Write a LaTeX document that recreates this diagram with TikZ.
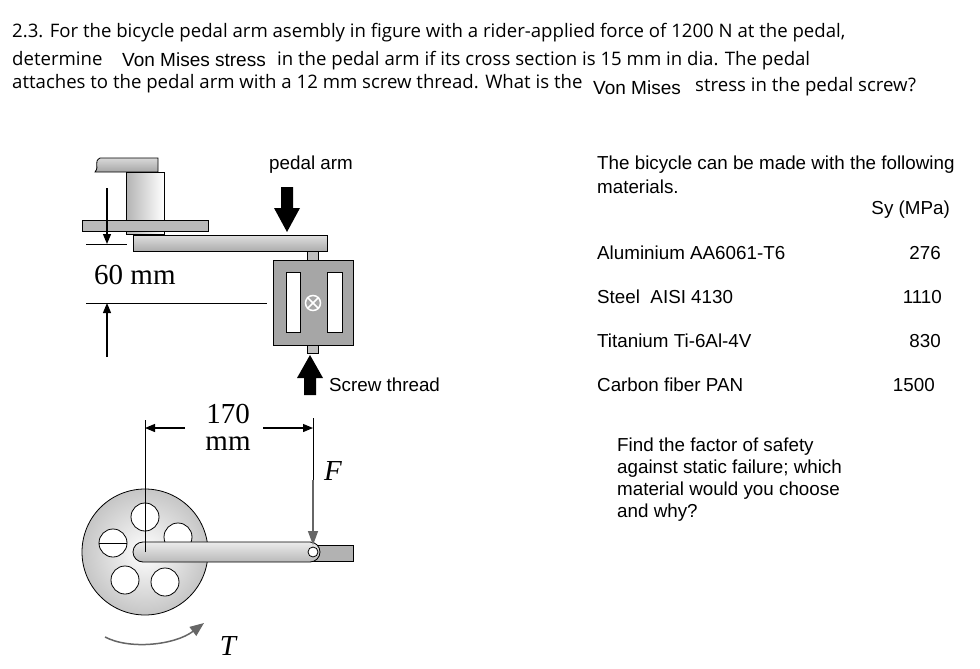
\documentclass[tikz,border=0pt]{standalone}
\usepackage{fontspec}
\setmainfont{Open Sans}
\newfontfamily\arial{Liberation Sans}
\newfontfamily\tms{Liberation Serif}
\usetikzlibrary{arrows.meta,shapes.arrows}
\begin{document}
\begin{tikzpicture}[x=1pt,y=-1pt,
  txt/.style={anchor=west,inner sep=0pt,font=\fontsize{18.6}{20}\selectfont},
  vm/.style={anchor=west,inner sep=0pt,font=\arial\fontsize{19}{20}\selectfont},
  rt/.style={anchor=west,inner sep=0pt,font=\arial\fontsize{18.8}{22}\selectfont},
  rn/.style={anchor=east,inner sep=0pt,font=\arial\fontsize{18.8}{22}\selectfont},
  dim/.style={font=\tms\fontsize{29}{30}\selectfont,inner sep=0pt},
  part/.style={draw=black,line width=0.8pt},
  blk/.style={fill=black,draw=none},
  ln/.style={line width=0.7pt},
  arr/.style={-{Triangle[length=10pt,width=8pt]},line width=1.2pt}]
\useasboundingbox (0,0) rectangle (980,669);
\fill[white] (0,0) rectangle (980,669);
% header text
\node[txt] (l1) at (12,33) {2.3. For the bicycle pedal arm asembly in figure with a rider-applied force of 1200 N at the pedal,};
\node[txt] (l2a) at (12,59) {determine};
\node[vm] (l2b) at (122,60) {Von Mises stress};
\node[txt] (l2c) at (277,61) {in the pedal arm if its cross section is 15 mm in dia. The pedal};
\node[txt] (l3a) at (12,84) {attaches to the pedal arm with a 12 mm screw thread. What is the};
\node[vm] (l3b) at (593,88) {Von Mises};
\node[txt] (l3c) at (695,87) {stress in the pedal screw?};
% right column
\node[rt] (r1) at (597,165) {The bicycle can be made with the following};
\node[rt] (r2) at (597,187) {materials.};
\node[rn] (sy) at (950,210) {Sy (MPa)};
\node[rt] (m1) at (597,253) {Aluminium AA6061-T6};
\node[rt] (m2) at (597,297) {Steel\ \ AISI 4130};
\node[rt] (m3) at (597,341) {Titanium Ti-6Al-4V};
\node[rt] (m4) at (597,385) {Carbon fiber PAN};
\node[rn] (v1) at (941,253) {276};
\node[rn] (v2) at (942,297) {1110};
\node[rn] (v3) at (941,341) {830};
\node[rn] (v4) at (935,385) {1500};
\node[rt,align=left,anchor=north west] (q) at (617,438) {Find the factor of safety\\against static failure; which\\material would you choose\\and why?};
% ---------- top-left drawing ----------
\shade[top color=gray!30,bottom color=gray!70,draw=black,line width=0.8pt]
  (158,158) -- (100,158) .. controls (93,162) and (100,166) .. (95,172) -- (158,172) -- cycle;
\shade[left color=gray!60,right color=white,draw=black,line width=0.8pt] (126,172) rectangle (164,234);
\fill[gray!55,part] (82,220) rectangle (208,231);
\shade[top color=gray!25,bottom color=gray!65,draw=black,line width=0.8pt] (133,235) rectangle (327,251);
\fill[gray!50,part] (307,251) rectangle (318,260);
\fill[gray!50,part] (307,345) rectangle (318,353);
\fill[gray!70,part] (273,260) rectangle (353,345);
\fill[white,part] (286,272) rectangle (300,332);
\fill[white,part] (327,272) rectangle (342,332);
\node[circle,draw=white,fill=gray!70,line width=1.5pt,minimum size=15pt,inner sep=0pt] (xm) at (313,303) {};
\draw[white,line width=1.5pt] (xm.north east) -- (xm.south west) (xm.north west) -- (xm.south east);
% dims
\coordinate (t1) at (107,188); \coordinate (t2) at (107,244);
\coordinate (b1) at (107,357); \coordinate (b2) at (107,303);
\draw[arr] (t1) -- (t2);
\draw[arr] (b1) -- (b2);
\draw[ln] (86,244) -- (127,244);
\draw[ln] (86,303) -- (267,303);
\node[dim,anchor=west] (d60) at (94,275) {60 mm};
% block arrows
\fill[blk] (281,187) -- (293,187) -- (293,208) -- (300,208) -- (287,232) -- (274,208) -- (281,208) -- cycle;
\fill[blk] (304,395) -- (316,395) -- (316,378) -- (323,378) -- (310,355) -- (297,378) -- (304,378) -- cycle;
\node[anchor=west,inner sep=0pt,font=\arial\fontsize{18.8}{20}\selectfont] (pa) at (269,165) {pedal arm};
\node[anchor=west,inner sep=0pt,font=\arial\fontsize{18.8}{20}\selectfont] (st) at (329,385) {Screw thread};
% ---------- bottom-left drawing ----------
\shade[inner color=white,outer color=gray!45,draw=black,line width=0.8pt] (145,552) circle (63);
\foreach \p/\n in {{(145,517)}/h1,{(113,543)}/h2,{(178,537)}/h3,{(125,580)}/h4,{(165,582)}/h5}
  \node[circle,draw=black,fill=white,line width=0.8pt,minimum size=28pt,inner sep=0pt] (\n) at \p {};
\draw[ln] (h2.west) -- (h2.east);
\fill[gray!60,part] (274,545) rectangle (353,561);
\shade[top color=gray!15,bottom color=gray!55,draw=black,line width=0.8pt,rounded corners=10pt] (133,542) rectangle (320,562);
\node[circle,draw=black,fill=white,line width=0.8pt,minimum size=10pt,inner sep=0pt] (pin) at (313,552) {};
\coordinate (c0) at (145,552);
\coordinate (ctop) at (145,420);
\draw[ln] (c0) -- (ctop);
\coordinate (rt) at (313,418);
\coordinate (fs) at (313,480);
\draw[ln] (rt) -- (fs);
\coordinate (fe) at (313,545);
\draw[gray!80!black,line width=1.5pt,-{Triangle[length=14pt,width=10pt]}] (fs) -- (fe);
\coordinate (la) at (185,428); \coordinate (ra) at (263,428);
\draw[arr] (la) -- (145,428);
\draw[arr] (ra) -- (313,428);
\node[dim] (n170) at (228,414) {170};
\node[dim] (nmm) at (228,444) {mm};
\node[dim,font=\tms\itshape\fontsize{29}{30}\selectfont] (F) at (333,471) {F};
\node[dim,font=\tms\itshape\fontsize{29}{30}\selectfont] (T) at (228,646) {T};
\coordinate (ts) at (105,637); \coordinate (te) at (204,623);
\draw[gray!80!black,line width=1.5pt,-{Triangle[length=14pt,width=11pt]}] (ts) .. controls (130,650) and (175,645) .. (te);
\end{tikzpicture}
\end{document}
